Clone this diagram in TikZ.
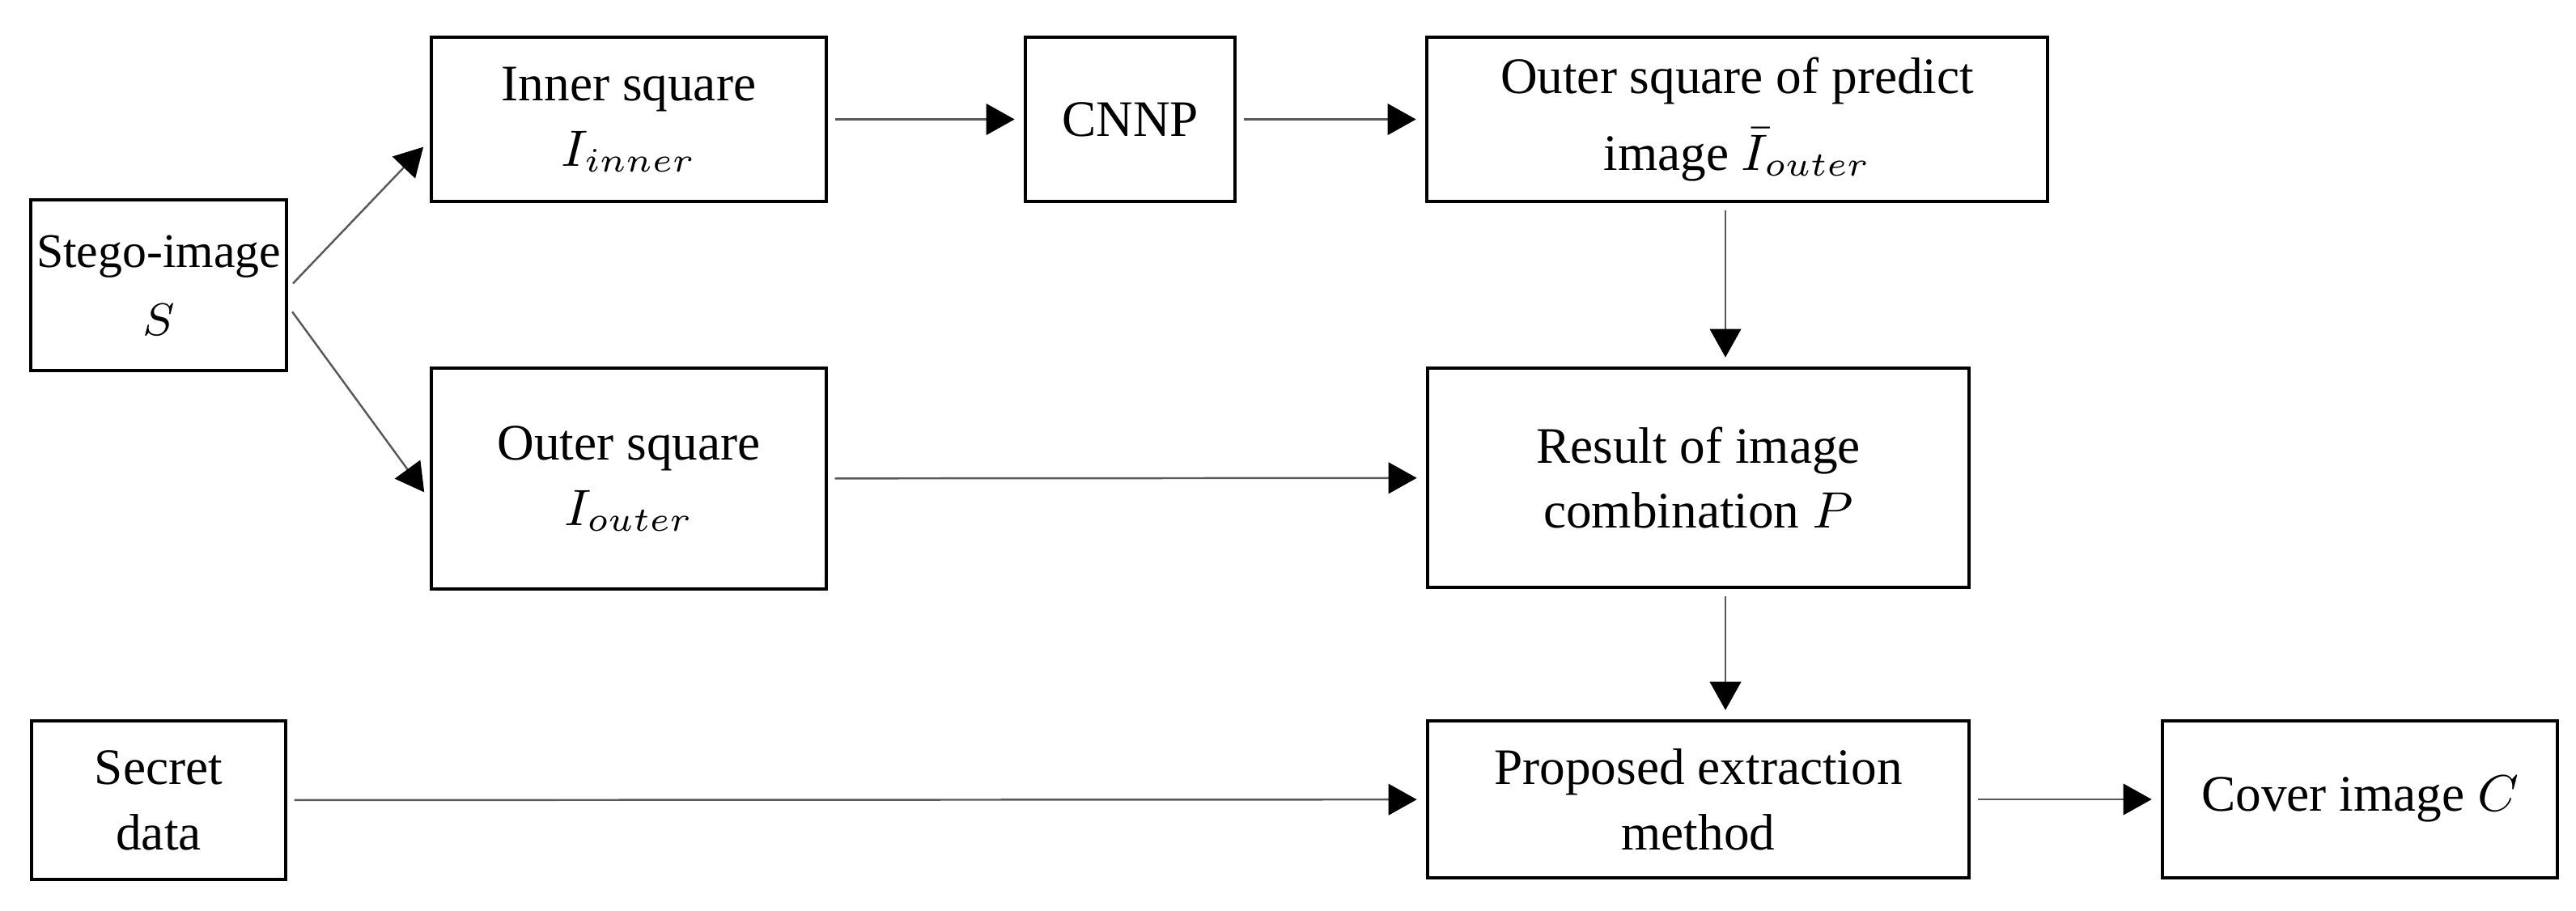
\documentclass[tikz,border=0pt]{standalone}
\usepackage{fontspec}
\setmainfont{Liberation Serif}
\usepackage{amsmath}
\usetikzlibrary{arrows.meta}
\tikzset{
  caja/.style={draw, line width=0.6pt, align=center, inner sep=1pt,
    font=\fontsize{9pt}{11.5pt}\selectfont},
  flecha/.style={draw=black!65, line width=0.35pt,
    -{Triangle[length=5pt,width=5.5pt,color=black]},
    shorten <=1.2pt, shorten >=1.6pt}
}
\begin{document}
\begin{tikzpicture}
        \useasboundingbox (0,0) rectangle (15.915,-5.625);
        % columna izquierda
        \node[caja, minimum width=1.57cm, minimum height=1.055cm,
          font=\fontsize{8.5pt}{11pt}\selectfont] (stego) at (0.98,-1.7625) {Stego-image\\[1pt]$S$};
        \node[caja, minimum width=1.57cm, minimum height=0.98cm] (secret) at (0.98,-4.945) {Secret\\data};
        % cuadrados
        \node[caja, minimum width=2.44cm, minimum height=1.015cm] (inner) at (3.885,-0.7375) {Inner square\\$I_{inner}$};
        \node[caja, minimum width=2.44cm, minimum height=1.365cm] (outer) at (3.885,-2.9575) {Outer square\\$I_{outer}$};
        % prediccion
        \node[caja, minimum width=1.295cm, minimum height=1.015cm] (cnnp) at (6.9825,-0.7375) {CNNP};
        \node[caja, minimum width=3.835cm, minimum height=1.015cm] (pred) at (10.7325,-0.7375) {Outer square of predict\\[2pt]image $\bar{I}_{outer}$};
        % combinacion y extraccion
        \node[caja, minimum width=3.345cm, minimum height=1.355cm] (result) at (10.4925,-2.9525) {Result of image\\combination $P$};
        \node[caja, minimum width=3.345cm, minimum height=0.97cm] (proposed) at (10.4925,-4.94) {Proposed extraction\\method};
        \node[caja, minimum width=2.44cm, minimum height=0.97cm] (cover) at (14.58,-4.94) {Cover image $C$};
        % flechas
        \draw[flecha] ([yshift=-0.02cm]stego.east) -- ([yshift=-0.13cm]inner.west);
        \draw[flecha] ([yshift=-0.13cm]stego.east) -- ([yshift=-0.13cm]outer.west);
        \draw[flecha] (inner) -- (cnnp);
        \draw[flecha] (cnnp) -- (pred);
        \draw[flecha] (outer) -- (result);
        \draw[flecha] (secret) -- (proposed);
        \draw[flecha] (proposed) -- (cover);
        % flechas verticales
        \coordinate (col) at (10.66,0);
        \draw[flecha] (pred.south -| col) -- (result.north -| col);
        \draw[flecha] (result.south -| col) -- (proposed.north -| col);
\end{tikzpicture}
\end{document}
